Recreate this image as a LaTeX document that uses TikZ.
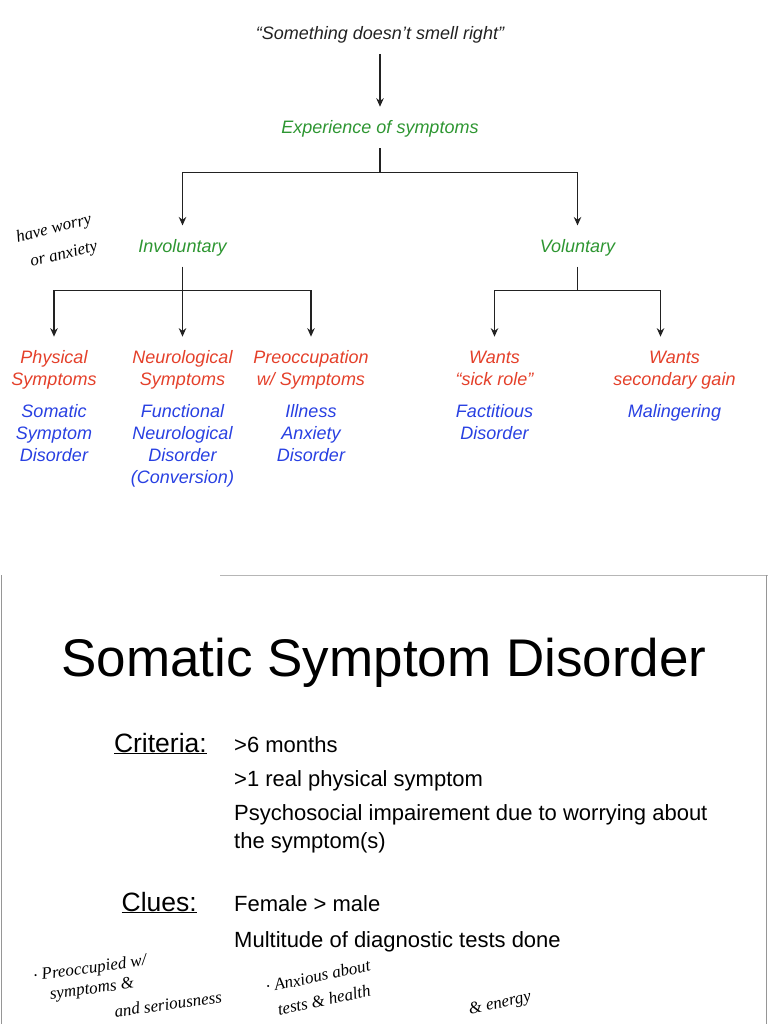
\documentclass[tikz,border=0pt]{standalone}
\usepackage{fontspec}
\setmainfont{Liberation Sans}
\newfontfamily\handfont{Liberation Serif}
\usetikzlibrary{arrows.meta,positioning}

\definecolor{stepgreen}{RGB}{46,150,50}
\definecolor{symred}{RGB}{228,64,42}
\definecolor{dxblue}{RGB}{40,64,226}
\definecolor{inkgray}{RGB}{34,34,34}
\definecolor{framegray}{RGB}{150,150,150}

\newcommand{\sy}[1]{\textcolor{symred}{#1}}
\newcommand{\dx}[1]{\textcolor{dxblue}{#1}}

\tikzset{
  chart/.style={font=\fontsize{18}{22}\selectfont\itshape, align=center,
    inner xsep=0pt, inner ysep=14pt, anchor=north},
  branch/.style={text=stepgreen, text depth=0pt},
  title/.style={font=\fontsize{53}{60}\selectfont, anchor=base, inner sep=0pt},
  head/.style={font=\fontsize{26.5}{30}\selectfont, anchor=base east, inner sep=0pt},
  body/.style={font=\fontsize{22}{28}\selectfont, anchor=base west, inner sep=0pt, align=left},
  note/.style={font=\handfont\itshape\fontsize{17}{19}\selectfont, inner sep=0pt, align=left},
}

\begin{document}
\begin{tikzpicture}[x=1pt, y=-1pt,
    every child node/.style={chart},
    level 1/.style={level distance=73.5pt},
    level 2/.style={level distance=98pt, sibling distance=395pt},
    level 3/.style={level distance=90.5pt, sibling distance=128.5pt},
    edge from parent/.style={draw, line width=1.2pt, inkgray, -{Stealth[length=8.5pt,width=7.5pt]}},
    edge from parent path={(\tikzparentnode.south) -- ++(0,24) -| (\tikzchildnode.north)}]
  \useasboundingbox (0,0) rectangle (768,1024);
  \clip (0,0) rectangle (768,1024);

  % flow chart
  \node[chart, text=inkgray, text depth=0pt] (smell) at (380,12.5) {“Something doesn’t smell right”}
    child {node[branch] (exp) {Experience of symptoms}
      child {node[branch] (invol) {Involuntary}
        child {node (phys) {\sy{Physical}\\\sy{Symptoms}\\[10pt]\dx{Somatic}\\\dx{Symptom}\\\dx{Disorder}}}
        child {node (neuro) {\sy{Neurological}\\\sy{Symptoms}\\[10pt]\dx{Functional}\\\dx{Neurological}\\\dx{Disorder}\\\dx{(Conversion)}}}
        child {node (preocc) {\sy{Preoccupation}\\\sy{w/ Symptoms}\\[10pt]\dx{Illness}\\\dx{Anxiety}\\\dx{Disorder}}}
      }
      child {node[branch] (vol) {Voluntary}
        child[sibling distance=166pt] {node (sick) {\sy{Wants}\\\sy{“sick role”}\\[10pt]\dx{Factitious}\\\dx{Disorder}}}
        child[sibling distance=166pt,
          edge from parent path={(\tikzparentnode.south) -- ++(0,24) -| ([xshift=-14pt]\tikzchildnode.north)}]
          {node[xshift=14pt] (gain) {\sy{Wants}\\\sy{secondary gain}\\[10pt]\dx{Malingering}}}
      }
    };

  % handwritten notes
  \node[note, rotate=14] (worry1) at (54,229) {have worry};
  \node[note, rotate=14] (worry2) at (64,255) {or anxiety};

  % lower slide
  \draw[framegray, line width=1.2pt] (1.5,575) -- (1.5,1024);
  \draw[framegray!70, line width=1.5pt] (220,575.5) -- (768,575.5);
  \draw[framegray, line width=1.2pt] (766.5,575) -- (766.5,1024);

  \node[title] (sstitle) at (384,676) {Somatic Symptom Disorder};

  \node[head] (crit) at (207,752) {\underline{Criteria:}};
  \node[body] (crit1) at (234,752) {>6 months};
  \node[body] (crit2) at (234,786) {>1 real physical symptom};
  \node[body] (crit3) at (234,820) {Psychosocial impairement due to worrying about};
  \node[body] (crit4) at (234,848) {the symptom(s)};

  \node[head] (clue) at (197,911) {\underline{Clues:}};
  \node[body] (clue1) at (234,911) {Female > male};
  \node[body] (clue2) at (234,947) {Multitude of diagnostic tests done};

  \node[note, rotate=8] (pre1) at (90,969) {· Preoccupied w/};
  \node[note, rotate=8] (pre2) at (92,990) {symptoms \&};
  \node[note, rotate=8] (pre3) at (168,1004) {and seriousness};
  \node[note, rotate=12] (anx1) at (318,976) {· Anxious about};
  \node[note, rotate=12] (anx2) at (324,1000) {tests \& health};
  \node[note, rotate=12] (energy) at (500,1004) {\& energy};
\end{tikzpicture}
\end{document}
